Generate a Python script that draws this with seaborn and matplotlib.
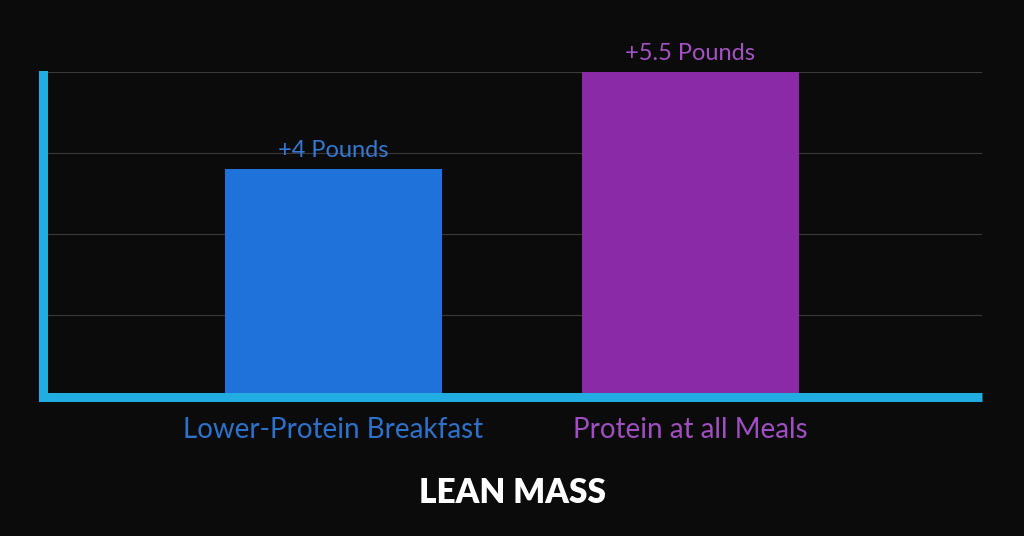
import pandas as pd
import matplotlib.pyplot as plt
import seaborn as sns
from matplotlib.ticker import FixedLocator

# DATA
groups = ['Lower-Protein Breakfast', 'Protein at all Meals']
gain_lbs = [4, 5.5]
bar_colors = ['#1f72d9', '#8b2aa6']
label_colors = ['#2d71cb', '#a04ec1']
value_colors = ['#3479d3', '#a452c4']
grid_levels = [0.5, 1.75, 3.0, 4.25, 5.5]

df = pd.DataFrame({'Group': groups, 'Gain': gain_lbs})

# STYLE SETTINGS
sns.set_style("dark")
plt.rcParams['font.family'] = ['Lato', 'DejaVu Sans']
bg = '#0b0b0b'

fig = plt.figure(figsize=(10.24, 5.36), dpi=100, facecolor=bg)
ax = fig.add_axes([43/1024, (536-396.5)/536, (982-43)/1024, (396.5-72)/536])
ax.set_facecolor(bg)

sns.barplot(data=df, x='Group', y='Gain', hue='Group', palette=bar_colors,
            width=0.608, legend=False, ax=ax, saturation=1, zorder=2,
            edgecolor='none', linewidth=0)

ax.set_xlim(-0.814, 1.817)
ax.set_ylim(0.5, 5.5)
ax.yaxis.set_major_locator(FixedLocator(grid_levels))
ax.grid(axis='y', color='#3a3a3a', linewidth=0.8, zorder=0)
ax.grid(axis='x', visible=False)
ax.set_yticklabels([])
ax.tick_params(axis='both', length=0)

# spines
for s in ['top', 'right']:
    ax.spines[s].set_visible(False)
for s in ['left', 'bottom']:
    ax.spines[s].set_visible(True)
    ax.spines[s].set_color('#22ade2')
    ax.spines[s].set_linewidth(6.5)
    ax.spines[s].set_zorder(3)
ax.spines['left'].set_capstyle('projecting')
ax.spines['left'].set_bounds(0.5, 5.45)
ax.spines['bottom'].set_capstyle('butt')

# value labels
for cont, c, v in zip(ax.containers, value_colors, gain_lbs):
    ax.bar_label(cont, labels=[f"+{v:g} Pounds"], color=c, fontsize=17,
                 padding=6)

# category labels
ax.tick_params(axis='x', pad=15, labelsize=20)
for lbl, c in zip(ax.get_xticklabels(), label_colors):
    lbl.set_color(c)

ax.set_ylabel('')
ax.set_xlabel('LEAN MASS', color='white', fontsize=24, fontweight='heavy',
              labelpad=24)

fig.savefig('out.png', dpi=100, facecolor=bg)
